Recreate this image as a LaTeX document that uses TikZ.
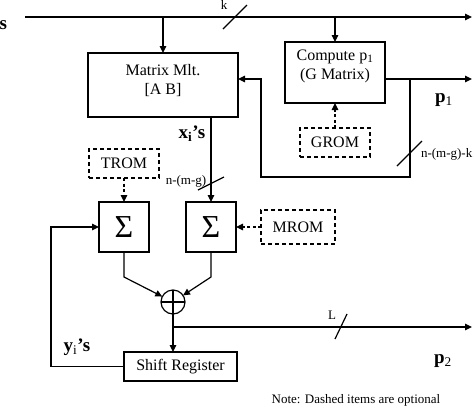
\documentclass[tikz,border=0pt]{standalone}
\usepackage{fontspec}
\setmainfont{Liberation Serif}
\usetikzlibrary{arrows.meta}
\begin{document}
\begin{tikzpicture}[x=1pt,y=-1pt,
  every node/.style={inner sep=0pt, outer sep=0pt},
  blk/.style={draw, line width=1.2pt, rectangle},
  dbox/.style={draw, line width=1.2pt, dash pattern=on 4pt off 3pt, rectangle, font=\fontsize{16}{18}\selectfont},
  txt/.style={font=\fontsize{16}{19}\selectfont, align=center},
  ln/.style={line width=1.2pt},
  arr/.style={line width=1.2pt, -{Triangle[length=7pt,width=6.5pt]}},
  darr/.style={arr, dash pattern=on 3pt off 2.5pt},
  lbl/.style={font=\fontsize{13}{15}\selectfont},
  bigl/.style={font=\fontsize{19}{21}\selectfont\bfseries},
  sig/.style={font=\fontsize{32}{34}\selectfont}]
\useasboundingbox (0,0) rectangle (474,408);

% nodes
\node[blk, minimum width=150pt, minimum height=64pt] (mm) at (163,85) {};
\node[txt] (mmtxt) at (163,80.5) {Matrix Mlt.\\{}{[A B]}};
\node[blk, minimum width=100pt, minimum height=61pt] (cp) at (335,72.5) {};
\node[txt] (cptxt) at (335,66) {Compute p\textsubscript{1}\\(G Matrix)};
\node[dbox, minimum width=70pt, minimum height=29pt] (grom) at (335,142.5) {GROM};
\node[dbox, minimum width=70pt, minimum height=29pt] (trom) at (124,163.5) {TROM};
\node[blk, minimum width=50pt, minimum height=50pt] (s1) at (124,227) {};
\node[sig] (s1t) at (124,227) {Σ};
\node[blk, minimum width=50pt, minimum height=50pt] (s2) at (211,227) {};
\node[sig] (s2t) at (211,227) {Σ};
\node[dbox, minimum width=74pt, minimum height=34pt] (mrom) at (298,227) {MROM};
\node[draw, line width=1.2pt, circle, minimum size=24pt] (xor) at (173,302) {};
\draw[ln] (xor.north) -- (xor.south) (xor.west) -- (xor.east);
\node[blk, minimum width=113pt, minimum height=29pt, font=\fontsize{16}{18}\selectfont] (sr) at (180.5,366.5) {Shift Register};

% coordinates
\coordinate (tin) at (25,17);
\coordinate (tout) at (472,17);
\coordinate (p1out) at (472,79);
\coordinate (br1) at (410,79);
\coordinate (lb1) at (410,177);
\coordinate (lb2) at (261,177);
\coordinate (lb3) at (261,79);
\coordinate (j1) at (124,277);
\coordinate (j2) at (211,277);
\coordinate (br2) at (173,327);
\coordinate (p2out) at (472,327);
\coordinate (fb1) at (51,366.5);
\coordinate (fb2) at (51,227);

% connectors
\draw[arr] (tin) -- (tout);
\draw[arr] (mm.north |- tin) -- (mm.north);
\draw[arr] (cp.north |- tin) -- (cp.north);
\draw[arr] (cp.east |- br1) -- (p1out);
\draw[arr] (br1) -- (lb1) -- (lb2) -- (lb3) -- (mm.east |- lb3);
\draw[darr] (grom.north) -- (cp.south);
\draw[arr] (s2.north |- mm.south) -- (s2.north);
\draw[darr] (trom.south) -- (s1.north);
\draw[darr] (mrom.west) -- (s2.east);
\draw[arr] (s1.south) -- (j1) -- (xor);
\draw[arr] (s2.south) -- (j2) -- (xor);
\draw[arr] (xor.south) -- (xor.south |- sr.north);
\draw[arr] (br2) -- (p2out);
\draw[arr] (sr.west) -- (fb1) -- (fb2) -- (s1.west);

% slashes
\coordinate (k1) at (223,29); \coordinate (k2) at (247,5);
\draw[ln] (k1) -- (k2);
\coordinate (n1) at (198,190); \coordinate (n2) at (224,177);
\draw[ln] (n1) -- (n2);
\coordinate (m1) at (397,166); \coordinate (m2) at (422,141);
\draw[ln] (m1) -- (m2);
\coordinate (l1) at (335,339); \coordinate (l2) at (347,314);
\draw[ln] (l1) -- (l2);

% labels
\node[lbl] (klbl) at (224,5) {k};
\node[lbl] (nlbl) at (186,181) {n-(m-g)};
\node[lbl, anchor=west] (nklbl) at (421,154) {n-(m-g)-k};
\node[lbl] (llbl) at (332,315) {L};
\node[bigl, anchor=base east] (slbl) at (7,29) {s};
\node[bigl] (xlbl) at (192,134) {x\textsubscript{i}’s};
\node[bigl] (ylbl) at (77,347) {y\textsubscript{\mdseries i}’s};
\node[bigl] (p1lbl) at (444,100) {p\textsubscript{\mdseries 1}};
\node[bigl] (p2lbl) at (443,361) {p\textsubscript{\mdseries 2}};
\node[font=\fontsize{13}{15}\selectfont] (note) at (356,400) {Note: Dashed items are optional};
\end{tikzpicture}
\end{document}
